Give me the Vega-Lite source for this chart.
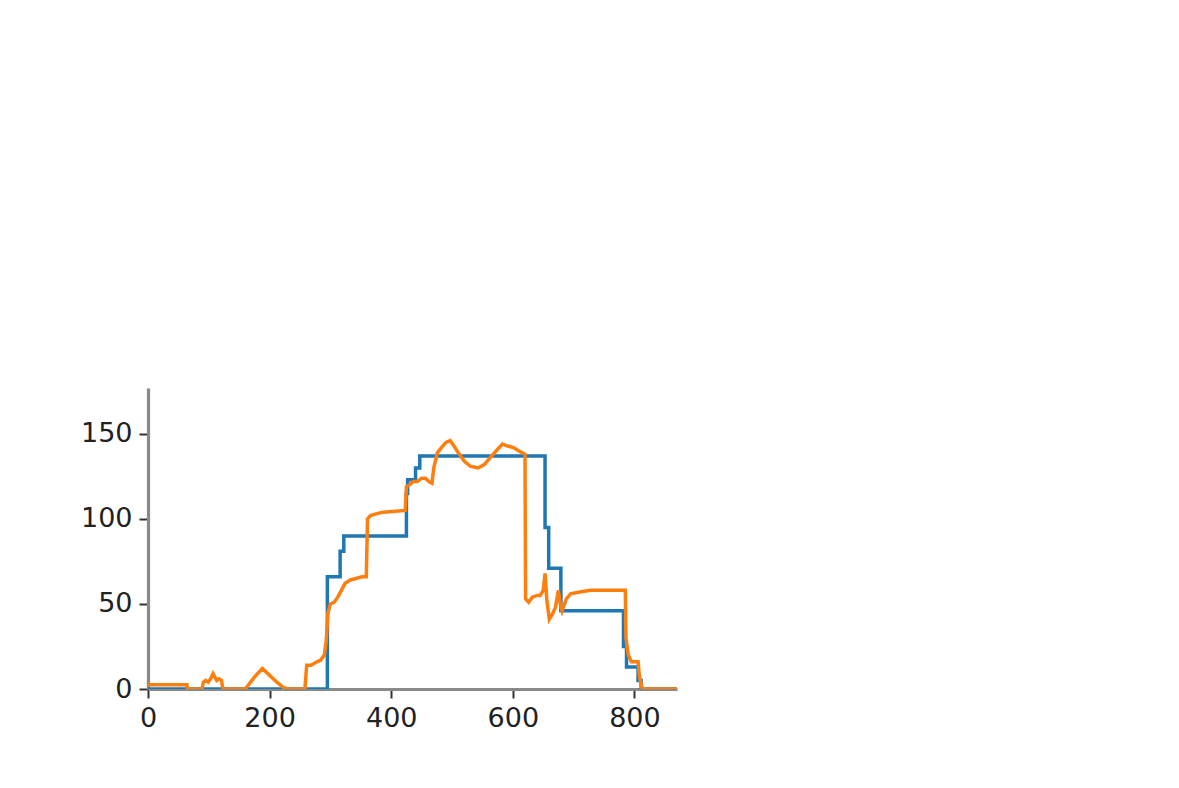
{
  "$schema": "https://vega.github.io/schema/vega-lite/v6.json",
  "autosize": "none",
  "padding": {"left": 148, "top": 388, "right": 502, "bottom": 99},
  "width": 529,
  "height": 301,
  "background": "white",
  "config": {
    "view": {"stroke": null},
    "axis": {
      "grid": false,
      "domainColor": "#8a8a8a",
      "domainWidth": 3.2,
      "tickColor": "#333333",
      "tickWidth": 2,
      "tickSize": 9,
      "labelFont": "DejaVu Sans",
      "labelFontSize": 27,
      "labelColor": "#222222",
      "labelPadding": 7,
      "title": null
    }
  },
  "datasets": {
    "blue": [
      {"x": 0, "y": 0}, {"x": 295, "y": 66}, {"x": 316, "y": 81}, {"x": 322, "y": 90},
      {"x": 425, "y": 115}, {"x": 427, "y": 123}, {"x": 440, "y": 130}, {"x": 447, "y": 137},
      {"x": 653, "y": 95}, {"x": 659, "y": 71}, {"x": 679, "y": 46}, {"x": 782, "y": 25},
      {"x": 787, "y": 13}, {"x": 806, "y": 5}, {"x": 811, "y": 0}, {"x": 870, "y": 0}
    ],
    "orange": [
      {"x": 0, "y": 2.5}, {"x": 64, "y": 2.5}, {"x": 65, "y": 0}, {"x": 89, "y": 0},
      {"x": 91, "y": 4}, {"x": 95, "y": 5}, {"x": 99, "y": 4}, {"x": 103, "y": 6},
      {"x": 107, "y": 9}, {"x": 110, "y": 7}, {"x": 113, "y": 5}, {"x": 117, "y": 6},
      {"x": 121, "y": 5}, {"x": 123, "y": 0}, {"x": 160, "y": 0},
      {"x": 175, "y": 7}, {"x": 188, "y": 12}, {"x": 200, "y": 8}, {"x": 212, "y": 4},
      {"x": 222, "y": 1}, {"x": 230, "y": 0}, {"x": 258, "y": 0}, {"x": 261, "y": 14},
      {"x": 268, "y": 14}, {"x": 278, "y": 16}, {"x": 284, "y": 17}, {"x": 290, "y": 20},
      {"x": 293, "y": 28}, {"x": 296, "y": 45}, {"x": 300, "y": 50}, {"x": 306, "y": 51},
      {"x": 312, "y": 54}, {"x": 318, "y": 58}, {"x": 324, "y": 62}, {"x": 332, "y": 64},
      {"x": 342, "y": 65}, {"x": 352, "y": 66}, {"x": 359, "y": 66}, {"x": 361, "y": 100},
      {"x": 366, "y": 102}, {"x": 375, "y": 103}, {"x": 387, "y": 104}, {"x": 423, "y": 105},
      {"x": 425, "y": 119}, {"x": 430, "y": 120}, {"x": 436, "y": 122}, {"x": 443, "y": 122},
      {"x": 450, "y": 124}, {"x": 456, "y": 124}, {"x": 462, "y": 122}, {"x": 467, "y": 121},
      {"x": 470, "y": 130}, {"x": 476, "y": 139}, {"x": 485, "y": 143}, {"x": 490, "y": 145},
      {"x": 497, "y": 146}, {"x": 503, "y": 143}, {"x": 510, "y": 139}, {"x": 520, "y": 134},
      {"x": 530, "y": 131}, {"x": 543, "y": 130}, {"x": 553, "y": 132}, {"x": 565, "y": 137},
      {"x": 575, "y": 141}, {"x": 583, "y": 144}, {"x": 590, "y": 143}, {"x": 601, "y": 142},
      {"x": 610, "y": 140}, {"x": 620, "y": 138}, {"x": 621, "y": 53}, {"x": 626, "y": 51},
      {"x": 632, "y": 54}, {"x": 640, "y": 55}, {"x": 645, "y": 55}, {"x": 650, "y": 58},
      {"x": 653, "y": 68}, {"x": 656, "y": 52}, {"x": 660, "y": 41}, {"x": 665, "y": 44},
      {"x": 670, "y": 48}, {"x": 675, "y": 58}, {"x": 678, "y": 50}, {"x": 681, "y": 46},
      {"x": 688, "y": 53}, {"x": 695, "y": 56}, {"x": 710, "y": 57}, {"x": 728, "y": 58},
      {"x": 750, "y": 58}, {"x": 785, "y": 58}, {"x": 786, "y": 30}, {"x": 790, "y": 20},
      {"x": 795, "y": 16}, {"x": 806, "y": 16}, {"x": 808, "y": 8}, {"x": 813, "y": 0},
      {"x": 870, "y": 0}
    ]
  },
  "layer": [
    {
      "data": {"name": "blue"},
      "mark": {"type": "line", "color": "#1f77b4", "strokeWidth": 3.5, "interpolate": "step-after", "clip": true},
      "encoding": {
        "x": {"field": "x", "type": "quantitative", "scale": {"domain": [0, 870], "nice": false, "zero": false},
              "axis": {"values": [0, 200, 400, 600, 800], "labelFlush": false}},
        "y": {"field": "y", "type": "quantitative", "scale": {"domain": [0, 177], "nice": false},
              "axis": {"values": [0, 50, 100, 150]}}
      }
    },
    {
      "data": {"name": "orange"},
      "mark": {"type": "line", "color": "#ff7f0e", "strokeWidth": 3.5, "clip": true},
      "encoding": {
        "x": {"field": "x", "type": "quantitative"},
        "y": {"field": "y", "type": "quantitative"}
      }
    }
  ]
}
